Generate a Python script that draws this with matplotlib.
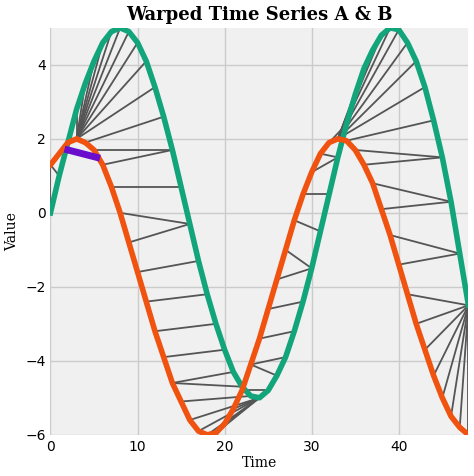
import matplotlib.pyplot as plt
import numpy as np

time = list(range(49))
series_a = [0.0, 1.0, 1.9, 2.8, 3.5, 4.1, 4.6, 4.9, 5.0, 4.9, 4.6, 4.1, 3.4, 2.6, 1.7, 0.7,
            -0.3, -1.3, -2.2, -3.0, -3.7, -4.3, -4.7, -4.95, -5.0, -4.8, -4.4, -3.9, -3.2,
            -2.4, -1.5, -0.5, 0.5, 1.5, 2.4, 3.2, 3.9, 4.4, 4.8, 5.0, 4.95, 4.6, 4.1, 3.4,
            2.5, 1.5, 0.3, -1.1, -2.5]
series_b = [1.3, 1.6, 1.9, 2.0, 1.9, 1.7, 1.3, 0.7, 0.0, -0.8, -1.6, -2.4, -3.2, -3.9,
            -4.6, -5.1, -5.6, -5.9, -6.0, -5.95, -5.7, -5.3, -4.8, -4.1, -3.4, -2.6, -1.8,
            -1.0, -0.2, 0.5, 1.1, 1.6, 1.9, 2.0, 1.95, 1.7, 1.3, 0.8, 0.1, -0.6, -1.4,
            -2.2, -3.0, -3.7, -4.4, -5.0, -5.5, -5.8, -6.0]
purple_x = [2, 5.3]
purple_y = [1.7, 1.5]

# DTW alignment between the two series
a = np.array(series_a)
b = np.array(series_b)
n, m = len(a), len(b)
cost = np.full((n + 1, m + 1), np.inf)
cost[0, 0] = 0
for i in range(1, n + 1):
    for j in range(1, m + 1):
        d = abs(a[i - 1] - b[j - 1])
        cost[i, j] = d + min(cost[i - 1, j], cost[i, j - 1], cost[i - 1, j - 1])
path = []
i, j = n, m
while i > 0 and j > 0:
    path.append((i - 1, j - 1))
    k = np.argmin([cost[i - 1, j - 1], cost[i - 1, j], cost[i, j - 1]])
    if k == 0:
        i, j = i - 1, j - 1
    elif k == 1:
        i -= 1
    else:
        j -= 1

fig, ax = plt.subplots(figsize=(4.74, 4.76), dpi=100)
fig.patch.set_facecolor("white")
ax.set_facecolor("#f0f0f0")
for s in ax.spines.values():
    s.set_visible(False)
ax.grid(True, color="#cbcbcb", lw=1)
ax.set_axisbelow(True)

for i, j in path:
    ax.plot([time[i], time[j]], [a[i], b[j]], color="#555555", lw=1.3, zorder=2)
ax.plot(time, series_a, color="#12a47a", lw=4, zorder=3)
ax.plot(time, series_b, color="#f0520f", lw=4, zorder=3)
ax.plot(purple_x, purple_y, color="#6a0dcc", lw=5, zorder=4)

ax.set_xlim(0, 48)
ax.set_ylim(-6, 5)
ax.set_xticks([0, 10, 20, 30, 40])
ax.set_yticks([-6, -4, -2, 0, 2, 4])
ax.set_yticklabels(["\u22126", "\u22124", "\u22122", "0", "2", "4"])
ax.tick_params(length=0, labelsize=10)
ax.set_title("Warped Time Series A & B", family="serif", fontweight="bold", fontsize=13)
ax.set_xlabel("Time", family="serif", fontsize=10, labelpad=2)
ax.set_ylabel("Value", family="serif", fontsize=10)
plt.tight_layout(pad=0.4)
plt.savefig("out.png")
